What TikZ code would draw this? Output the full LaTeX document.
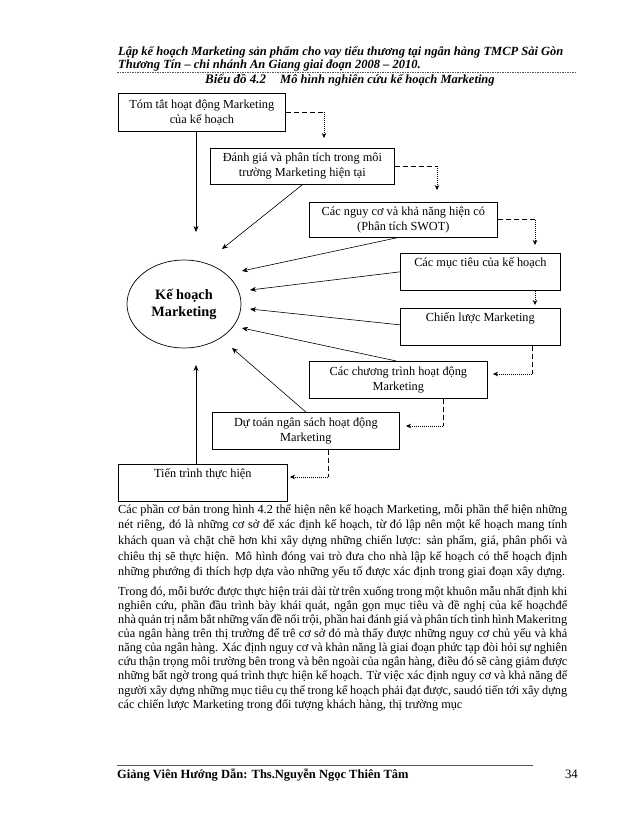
\documentclass[tikz,border=0pt]{standalone}
\usepackage{fontspec}
\setmainfont{Liberation Serif}
\usepackage{xcolor}
\usetikzlibrary{arrows.meta,shapes.geometric,positioning}
\definecolor{ink}{HTML}{000000}
\definecolor{rulegray}{HTML}{555555}
\tikzset{
  StepBox/.style={
    draw=ink, line width=0.7pt, rectangle, inner sep=2pt,
    align=center, anchor=north west,
    font=\fontsize{12.3}{15}\selectfont
  },
  PlanEllipse/.style={
    draw=ink, line width=0.7pt, ellipse, inner sep=0pt,
    minimum width=114pt, minimum height=88pt, align=center,
    font=\fontsize{14.3}{17}\selectfont\bfseries
  },
  FlowArrow/.style={draw=ink, line width=0.6pt, -{Stealth[length=6pt,width=5pt]}},
  DashLink/.style={draw=ink, line width=0.7pt, dash pattern=on 5pt off 3pt},
  DotLink/.style={draw=ink, line width=0.6pt, dash pattern=on 1pt off 1pt,
    -{Stealth[length=5pt,width=4.5pt]}},
  HeadText/.style={anchor=base west, inner sep=0pt,
    font=\fontsize{12.5}{15}\selectfont\bfseries\itshape},
  BodyText/.style={anchor=north west, inner sep=0pt, text width=449pt, align=justify}
}

\begin{document}
\begin{tikzpicture}[x=1pt, y=-1pt, line cap=butt, line join=miter]
  \useasboundingbox (0,0) rectangle (638,826);

  % page header
  \node[HeadText] (head1) at (118,56) {Lập kế hoạch Marketing sản phẩm cho vay tiểu thương tại ngân hàng TMCP Sài Gòn};
  \node[HeadText] (head2) at (118,69) {Thương Tín -- chi nhánh An Giang giai đoạn 2008 -- 2010.};
  \draw[rulegray, line width=0.6pt, dash pattern=on 1.5pt off 1pt] (117,72.5) -- (576,72.5);
  \node[HeadText, font=\fontsize{13}{15}\selectfont\bfseries\itshape] (capnum) at (205,84) {Biểu đồ 4.2};
  \node[HeadText] (captitle) at (280,84) {Mô hình nghiên cứu kế hoạch Marketing};

  % boxes
  \node[StepBox, minimum width=167pt, minimum height=38pt] (sum) at (118,93)
    {Tóm tắt hoạt động Marketing\\của kế hoạch};
  \node[StepBox, minimum width=184pt, minimum height=36pt] (env) at (210,148)
    {Đánh giá và phân tích trong môi\\trường Marketing hiện tại};
  \node[StepBox, minimum width=188pt, minimum height=35pt] (swot) at (309,202)
    {Các nguy cơ và khả năng hiện có\\(Phân tích SWOT)};
  \node[StepBox, minimum width=160pt, minimum height=37pt] (goal) at (400,253)
    {Các mục tiêu của kế hoạch\\\strut};
  \node[StepBox, minimum width=160pt, minimum height=37pt] (strat) at (400,308)
    {Chiến lược Marketing\\\strut};
  \node[StepBox, minimum width=178pt, minimum height=37pt] (prog) at (309,361)
    {Các chương trình hoạt động\\Marketing};
  \node[StepBox, minimum width=187pt, minimum height=37pt] (budget) at (212,412)
    {Dự toán ngân sách hoạt động\\Marketing};
  \node[StepBox, minimum width=169pt, minimum height=37pt] (run) at (118,464)
    {Tiến trình thực hiện\\\strut};

  \node[PlanEllipse] (plan) at (184,304) {Kế hoạch\\Marketing};

  % arrow tips near the plan
  \coordinate (tipSum) at (196,232);
  \coordinate (tipEnv) at (222,249);
  \coordinate (tipSwot) at (242,271);
  \coordinate (tipGoal) at (250,290);
  \coordinate (tipStrat) at (250,309);
  \coordinate (tipProg) at (242,328);
  \coordinate (tipBudget) at (232,348);
  \coordinate (tipRun) at (196,365);

  \draw[FlowArrow] (tipSum |- sum.south) -- (tipSum);
  \draw[FlowArrow] (env.south) -- (tipEnv);
  \draw[FlowArrow] ([xshift=-6pt]swot.south) -- (tipSwot);
  \draw[FlowArrow] (goal.west) -- (tipGoal);
  \draw[FlowArrow] ([yshift=2pt]strat.west) -- (tipStrat);
  \draw[FlowArrow] ([xshift=-2pt]prog.north) -- (tipProg);
  \draw[FlowArrow] (budget.north) -- (tipBudget);
  \draw[FlowArrow] (tipRun |- run.north) -- (tipRun);

  % step links
  \coordinate (inEnv) at (324,138);
  \coordinate (inSwot) at (437,190);
  \coordinate (inGoal) at (535,245);
  \coordinate (inStrat) at (535,305);
  \coordinate (inProg) at (493,374);
  \coordinate (inBudget) at (406,426);
  \coordinate (inRun) at (290,477);

  \draw[DashLink] (sum.east) -- (sum.east -| inEnv) coordinate (k1);
  \draw[DotLink] (k1) -- (inEnv);
  \draw[DashLink] (env.east) -- (env.east -| inSwot) coordinate (k2);
  \draw[DotLink] (k2) -- (inSwot);
  \draw[DashLink] (swot.east) -- (swot.east -| inGoal) coordinate (k3);
  \draw[DotLink] (k3) -- (inGoal);
  \draw[DotLink] (inStrat |- goal.south) -- (inStrat);
  \draw[DashLink] (532,0 |- strat.south) -- (532,374) coordinate (k4);
  \draw[DotLink] (k4) -- (inProg);
  \draw[DashLink] (443,0 |- prog.south) -- (443,426) coordinate (k5);
  \draw[DotLink] (k5) -- (inBudget);
  \draw[DashLink] (328,0 |- budget.south) -- (328,477) coordinate (k6);
  \draw[DotLink] (k6) -- (inRun);

  % body text
  \node[BodyText, font=\fontsize{12.3}{15.6}\selectfont] (para1) at (118,504)
    {Các phần cơ bản trong hình 4.2 thể hiện nên kế hoạch Marketing, mỗi phần thể hiện những\linebreak
     nét riêng, đó là những cơ sở để xác định kế hoạch, từ đó lập nên một kế hoạch mang tính\linebreak
     khách quan và chặt chẽ hơn khi xây dựng những chiến lược: sản phẩm, giá, phân phối và\linebreak
     chiêu thị sẽ thực hiện. Mô hình đóng vai trò đưa cho nhà lập kế hoạch có thể hoạch định\linebreak
     những phướng đi thích hợp dựa vào những yếu tố được xác định trong giai đoạn xây dựng.};
  \node[BodyText, font=\fontsize{12.3}{14.1}\selectfont] (para2) at (118,586)
    {Trong đó, mỗi bước được thực hiện trải dài từ trên xuống trong một khuôn mẫu nhất định khi\linebreak
     nghiên cứu, phần đầu trình bày khái quát, ngắn gọn mục tiêu và đề nghị của kế hoạchđể\linebreak
     nhà quản trị nắm bắt những vấn đề nổi trội, phần hai đánh giá và phân tích tình hình Makeritng\linebreak
     của ngân hàng trên thị trường để trê cơ sở đó mà thấy được những nguy cơ chủ yếu và khả\linebreak
     năng của ngân hàng. Xác định nguy cơ và khản năng là giai đoạn phức tạp đòi hỏi sự nghiên\linebreak
     cứu thận trọng môi trường bên trong và bên ngoài của ngân hàng, điều đó sẽ càng giảm được\linebreak
     những bất ngờ trong quá trình thực hiện kế hoạch. Từ việc xác định nguy cơ và khả năng để\linebreak
     người xây dựng những mục tiêu cụ thể trong kế hoạch phải đạt được, saudó tiến tới xây dựng\linebreak
     các chiến lược Marketing trong đối tượng khách hàng, thị trường mục};

  % page footer
  \draw[rulegray, line width=0.6pt] (117,765) -- (533,765);
  \node[anchor=base west, inner sep=0pt, font=\fontsize{12.5}{15}\selectfont\bfseries] (foot) at (117,778)
    {Giảng Viên Hướng Dẫn: Ths.Nguyễn Ngọc Thiên Tâm};
  \node[anchor=base east, inner sep=0pt, font=\fontsize{12.8}{15}\selectfont] (pageno) at (578,778) {34};
\end{tikzpicture}
\end{document}
